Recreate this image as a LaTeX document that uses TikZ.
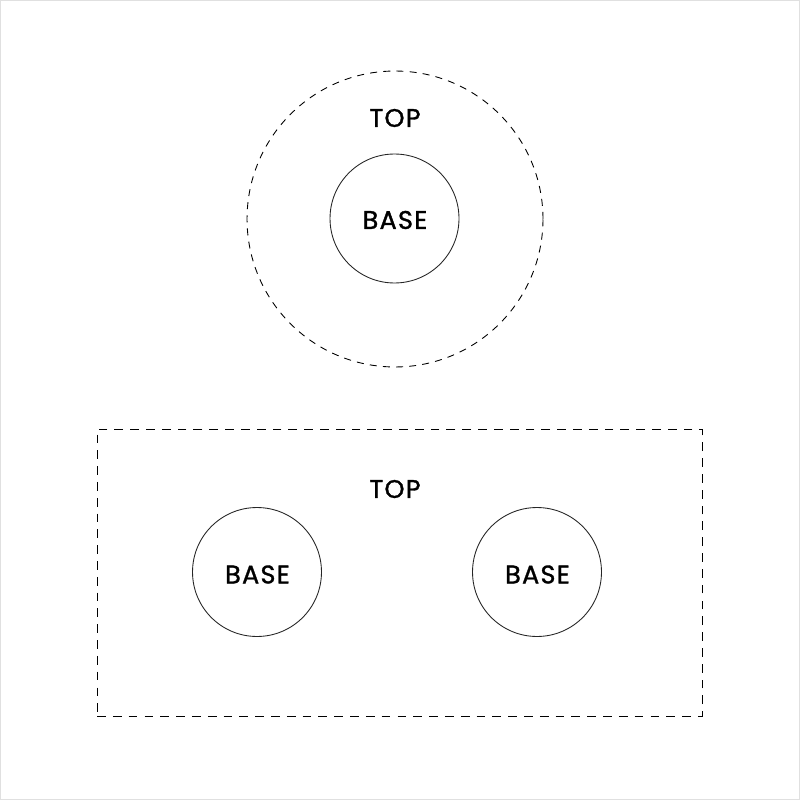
\documentclass[tikz,border=0pt]{standalone}
\usepackage{fontspec}
\setmainfont{Poppins}[LetterSpace=5, FakeBold=1.3]

\begin{document}
\begin{tikzpicture}[x=0.02cm, y=-0.02cm, font=\fontsize{14.5}{17}\selectfont,
	basecircle/.style={circle, draw, black!85, line width=0.5pt, inner sep=0pt, minimum size=2.58cm},
	topcircle/.style={circle, draw, dashed, dash pattern=on 4pt off 3.5pt, line width=0.5pt, inner sep=0pt, minimum size=5.92cm},
	topbox/.style={rectangle, draw, dashed, dash pattern=on 5pt off 4pt, line width=0.5pt, inner sep=0pt, minimum width=12.1cm, minimum height=5.74cm},
	label/.style={inner sep=0pt}]
	\useasboundingbox (0,0) rectangle (800,800);
	\draw[black!12, line width=1pt] (0,0) rectangle (800,800);
	% circle layout
	\node[topcircle] (topc) at (395,219) {};
	\node[label] (topc label) at (395,118) {TOP};
	\node[basecircle] (basec) at (394.5,218.5) {};
	\node[label] (basec label) at (395,220) {BASE};
	% box layout
	\node[topbox] (topb) at (399.5,572.5) {};
	\node[label] (topb label) at (395,489) {TOP};
	\node[basecircle] (basel) at (257,572) {};
	\node[label] (basel label) at (257.5,574.5) {BASE};
	\node[basecircle] (baser) at (537,572) {};
	\node[label] (baser label) at (537.5,574.5) {BASE};
\end{tikzpicture}
\end{document}
